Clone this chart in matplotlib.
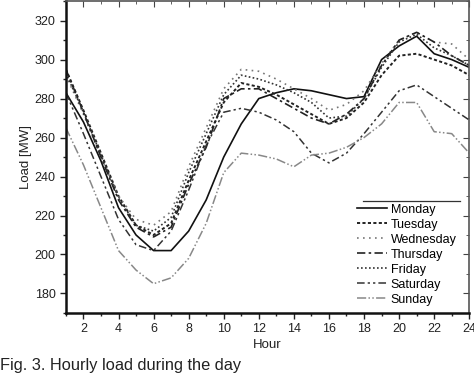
import numpy as np
import matplotlib.pyplot as plt

plt.rcParams['font.family'] = ['Liberation Sans', 'DejaVu Sans']

hours = list(range(1, 25))

# load [MW]
monday    = [283, 268, 248, 224, 210, 202, 202, 212, 228, 250, 267, 280,
             283, 285, 284, 282, 280, 281, 300, 307, 312, 303, 300, 296]
tuesday   = [295, 274, 252, 230, 215, 210, 216, 238, 258, 278, 288, 286,
             282, 277, 272, 267, 270, 278, 292, 302, 303, 300, 297, 292]
wednesday = [292, 272, 250, 230, 218, 215, 222, 245, 265, 285, 295, 294,
             290, 285, 280, 274, 277, 284, 298, 310, 314, 309, 308, 300]
thursday  = [295, 273, 250, 228, 214, 209, 214, 236, 255, 280, 285, 285,
             280, 275, 270, 267, 272, 280, 297, 310, 314, 309, 302, 297]
friday    = [293, 273, 251, 229, 215, 212, 219, 242, 262, 282, 292, 290,
             287, 283, 278, 270, 271, 280, 296, 309, 313, 306, 302, 297]
saturday  = [283, 262, 240, 218, 205, 202, 212, 233, 256, 273, 275, 273,
             269, 263, 252, 247, 252, 262, 273, 284, 287, 281, 275, 269]
sunday    = [265, 246, 224, 202, 192, 185, 188, 198, 216, 242, 252, 251,
             249, 245, 251, 252, 255, 260, 267, 278, 278, 263, 262, 252]

days = ["Monday", "Tuesday", "Wednesday", "Thursday", "Friday", "Saturday", "Sunday"]
series = [monday, tuesday, wednesday, thursday, friday, saturday, sunday]
styles = [
    ("-", "#111111", 1.2),
    ((0, (1.6, 1.2)), "#222222", 1.4),
    ((0, (1, 2.6)), "#777777", 1.2),
    ((0, (5, 2, 1.5, 2)), "#222222", 1.2),
    ((0, (1, 1.4)), "#333333", 1.2),
    ((0, (5, 2, 1.5, 2, 1.5, 2)), "#333333", 1.1),
    ((0, (6, 1.5, 1, 1.5, 1, 1.5)), "#888888", 1.1),
]

fig = plt.figure(figsize=(4.74, 3.73), dpi=100)
ax = fig.add_axes([0.139, 0.161, 0.851, 0.836])

for name, vals, (ls, col, lw) in zip(days, series, styles):
    ax.plot(hours, vals, linestyle=ls, color=col, lw=lw, label=name)

ax.set_xlim(1, 24)
ax.set_ylim(170, 330)
ax.set_xticks(range(2, 25, 2))
ax.set_xticks(range(1, 25), minor=True)
ax.set_yticks(range(180, 321, 20))
ax.set_yticks(range(170, 331, 10), minor=True)
ax.tick_params(which='major', direction='out', length=4, width=1, labelsize=9, colors='#222222')
ax.tick_params(which='minor', direction='out', length=2.5, width=1, colors='#222222')
ax.tick_params(axis='x', pad=3)

top = ax.secondary_xaxis('top')
top.set_xticks(range(2, 25, 2))
top.set_xticks(range(1, 25), minor=True)
top.tick_params(which='both', direction='in', labeltop=False, color='#444444')
top.tick_params(which='major', length=4)
top.tick_params(which='minor', length=2.5)
right = ax.secondary_yaxis('right')
right.set_yticks(range(180, 321, 20))
right.set_yticks(range(170, 331, 10), minor=True)
right.tick_params(which='both', direction='in', labelright=False, color='#444444')
right.tick_params(which='major', length=4)
right.tick_params(which='minor', length=2.5)

for s in ['left', 'bottom']:
    ax.spines[s].set_linewidth(1.8)
    ax.spines[s].set_color('#111111')
for s in ['top', 'right']:
    ax.spines[s].set_linewidth(1.2)
    ax.spines[s].set_color('#555555')
top.spines['top'].set_visible(False)
right.spines['right'].set_visible(False)

ax.set_xlabel("Hour", fontsize=9.5, color='#222222', labelpad=3)
ax.set_ylabel("Load [MW]", fontsize=9.5, color='#222222', labelpad=2)

leg = ax.legend(loc='upper right', bbox_to_anchor=(0.99, 0.378), frameon=False,
                fontsize=9, handlelength=2.4, handletextpad=0.25,
                labelspacing=0.24, borderpad=0.2)
ax.plot([0.737, 0.978], [0.359, 0.359], transform=ax.transAxes, color='#333333', lw=0.9)

fig.text(0.0, 1 - 358 / 373, "Fig. 3. Hourly load during the day", fontsize=11.8,
         color='#222222', va='top', ha='left')

fig.savefig("out.png", dpi=100)
